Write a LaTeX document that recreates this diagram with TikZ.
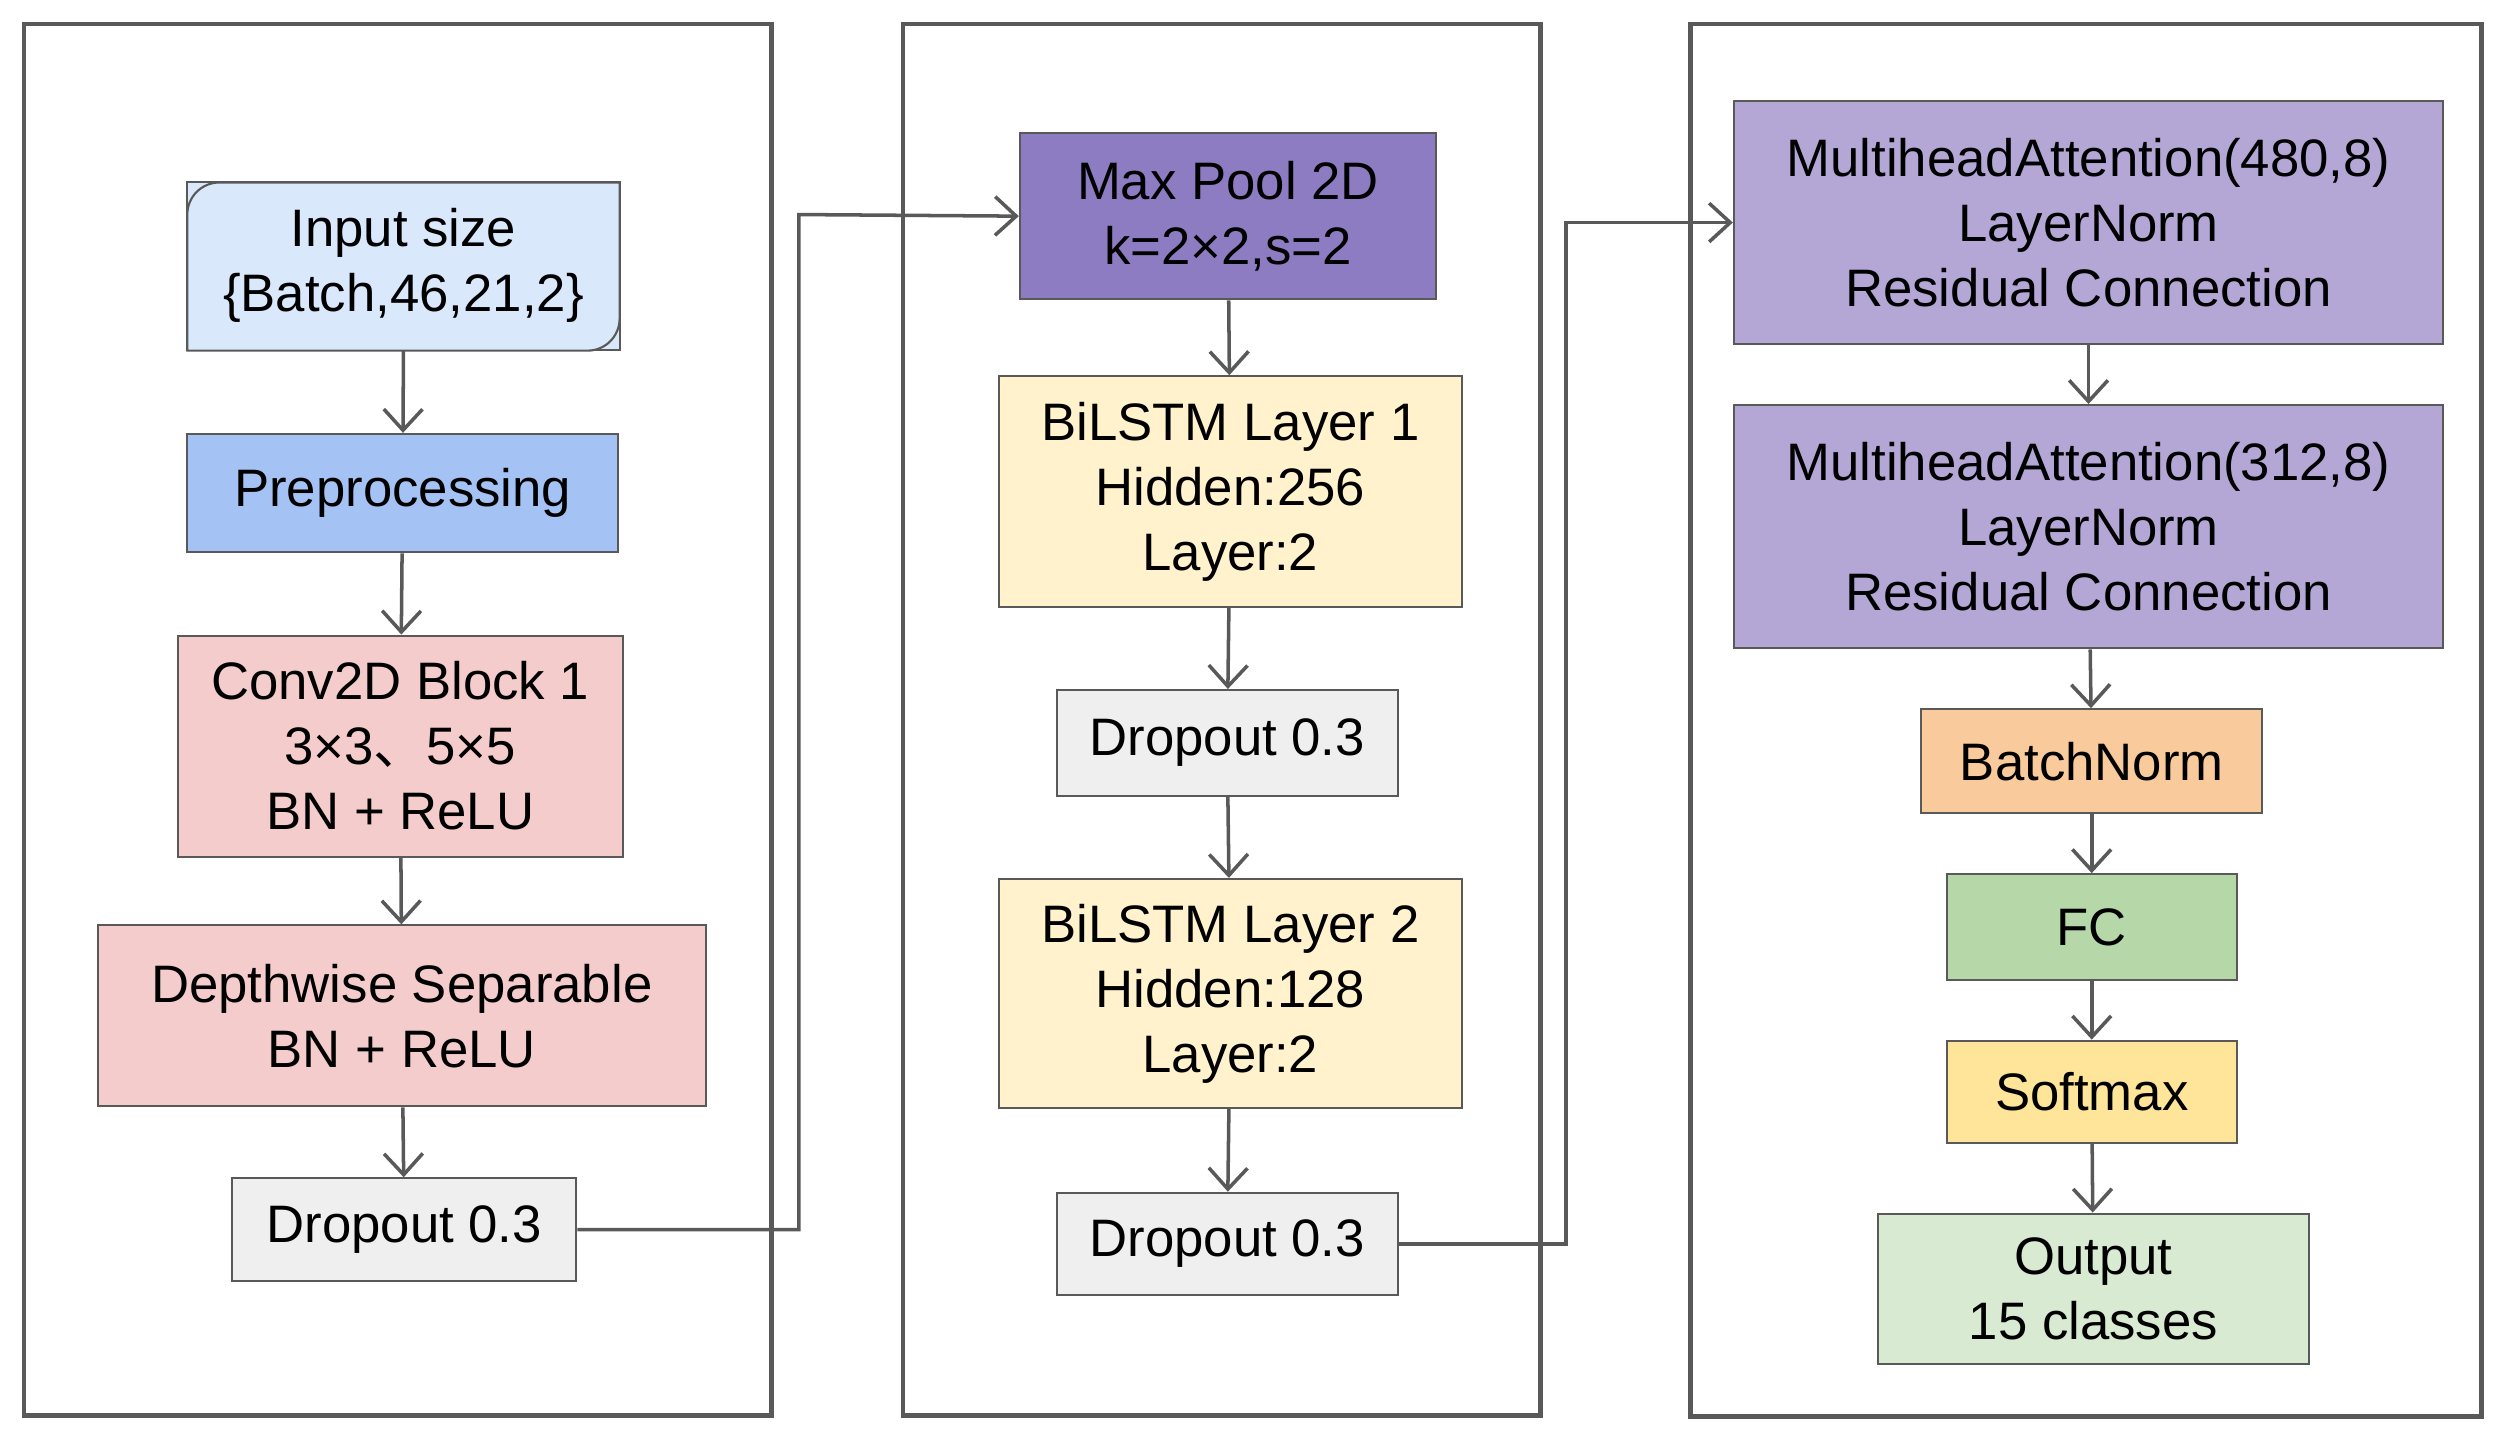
\documentclass[tikz,border=0pt]{standalone}
\usepackage{fontspec}
\setmainfont{Liberation Sans}
\newfontfamily\cjk{Noto Sans CJK SC}
\usetikzlibrary{arrows.meta}
\definecolor{inblue}{HTML}{DAE8FC}
\definecolor{preblue}{HTML}{A4C2F4}
\definecolor{convred}{HTML}{F4CCCC}
\definecolor{dropgray}{HTML}{EFEFEF}
\definecolor{poolpurple}{HTML}{8E7CC3}
\definecolor{lstmyellow}{HTML}{FFF2CC}
\definecolor{attpurple}{HTML}{B4A7D6}
\definecolor{bnorange}{HTML}{F9CB9C}
\definecolor{fcgreen}{HTML}{B6D7A8}
\definecolor{smyellow}{HTML}{FFE599}
\definecolor{outgreen}{HTML}{D9EAD3}
\definecolor{linegray}{HTML}{595959}
\begin{document}
\begin{tikzpicture}[x=0.016cm,y=-0.016cm,
  every node/.style={font=\fontsize{15pt}{18.5pt}\selectfont, align=center, inner sep=0pt},
  blk/.style={draw=linegray, line width=0.6pt},
  panel/.style={draw=linegray, line width=1.4pt},
  arr/.style={draw=linegray, line width=1pt, -{Straight Barb[length=6pt,width=11pt]}}]
\useasboundingbox (0,0) rectangle (1564,899);
% panels
\draw[panel] (15,15) rectangle (482,884);
\draw[panel] (564,15) rectangle (962,884);
\draw[panel] (1056,15) rectangle (1550,885);
% left column
\node[blk, fill=inblue, minimum width=270*0.016cm, minimum height=105*0.016cm,
  rounded corners=0pt] (inp) at (252,166) {Input size\\\{Batch,46,21,2\}};
\draw[blk, fill=inblue] (117,219) -- (117,134) to[out=90,in=180] (137,114) -- (387,114)
  -- (387,199) to[out=-90,in=0] (367,219) -- cycle;
\node at (252,166) {Input size\\\{Batch,46,21,2\}};
\node[blk, fill=preblue, minimum width=269*0.016cm, minimum height=74*0.016cm] (pre) at (251.5,308) {Preprocessing};
\node[blk, fill=convred, minimum width=278*0.016cm, minimum height=138*0.016cm] (conv) at (250,466) {Conv2D Block 1\\3×3{\cjk 、}5×5\\BN + ReLU};
\node[blk, fill=convred, minimum width=380*0.016cm, minimum height=113*0.016cm] (dws) at (251,634.5) {Depthwise Separable\\BN + ReLU};
\node[blk, fill=dropgray, minimum width=215*0.016cm, minimum height=64*0.016cm] (drop1) at (252.5,768) {Dropout 0.3};
% middle column
\node[blk, fill=poolpurple, minimum width=260*0.016cm, minimum height=104*0.016cm] (pool) at (767,135) {Max Pool 2D\\k=2×2,s=2};
\node[blk, fill=lstmyellow, minimum width=289*0.016cm, minimum height=144*0.016cm] (lstm1) at (768.5,307) {BiLSTM Layer 1\\Hidden:256\\Layer:2};
\node[blk, fill=dropgray, minimum width=213*0.016cm, minimum height=66*0.016cm] (drop2) at (766.5,464) {Dropout 0.3};
\node[blk, fill=lstmyellow, minimum width=289*0.016cm, minimum height=143*0.016cm] (lstm2) at (768.5,620.5) {BiLSTM Layer 2\\Hidden:128\\Layer:2};
\node[blk, fill=dropgray, minimum width=213*0.016cm, minimum height=64*0.016cm] (drop3) at (766.5,777) {Dropout 0.3};
% right column
\node[blk, fill=attpurple, minimum width=443*0.016cm, minimum height=152*0.016cm] (att1) at (1304.5,139) {MultiheadAttention(480,8)\\LayerNorm\\Residual Connection};
\node[blk, fill=attpurple, minimum width=443*0.016cm, minimum height=152*0.016cm] (att2) at (1304.5,329) {MultiheadAttention(312,8)\\LayerNorm\\Residual Connection};
\node[blk, fill=bnorange, minimum width=213*0.016cm, minimum height=65*0.016cm] (bn) at (1306.5,475.5) {BatchNorm};
\node[blk, fill=fcgreen, minimum width=181*0.016cm, minimum height=66*0.016cm] (fc) at (1306.5,579) {FC};
\node[blk, fill=smyellow, minimum width=181*0.016cm, minimum height=64*0.016cm] (soft) at (1306.5,682) {Softmax};
\node[blk, fill=outgreen, minimum width=269*0.016cm, minimum height=94*0.016cm] (out) at (1307.5,805) {Output\\15 classes};
% connectors
\draw[arr] (252,219) -- (pre);
\draw[arr] (pre) -- (conv);
\draw[arr] (conv) -- (dws);
\draw[arr] (dws) -- (drop1);
\draw[arr] (drop1.east) -- (499,768) -- (499,134) -- (pool.west);
\draw[arr] (pool) -- (lstm1);
\draw[arr] (lstm1) -- (drop2);
\draw[arr] (drop2) -- (lstm2);
\draw[arr] (lstm2) -- (drop3);
\draw[arr] (drop3.east) -- (978,777) -- (978,139) -- (att1.west);
\draw[arr] (att1) -- (att2);
\draw[arr] (att2) -- (bn);
\draw[arr] (bn) -- (fc);
\draw[arr] (fc) -- (soft);
\draw[arr] (soft) -- (out);
\end{tikzpicture}
\end{document}
